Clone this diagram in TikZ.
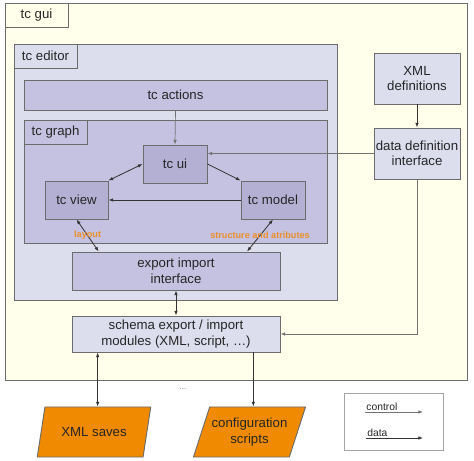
\documentclass[tikz,border=0pt]{standalone}
\usepackage{fontspec}
\setmainfont{Liberation Sans}
\usetikzlibrary{shapes.geometric, arrows.meta}
\usetikzlibrary{positioning}
\usetikzlibrary{calc}
\definecolor{guifill}{HTML}{FFFFEC}
\definecolor{edfill}{HTML}{DCDEEE}
\definecolor{midfill}{HTML}{C4C2E0}
\definecolor{darkfill}{HTML}{B4B0D4}
\definecolor{saveorange}{HTML}{F08A00}
\definecolor{lblorange}{HTML}{EC8E2A}
\definecolor{edgegray}{HTML}{6C6C6C}
\tikzset{
box/.style={
	rectangle,
	draw=edgegray,
	line width=0.8pt,
	text=black!85,
	text centered,
	align=center,
	inner sep=0pt,
	font=\fontsize{11.3}{13.2}\selectfont
},
tab/.style={
	box,
	minimum width=1.89cm,
	minimum height=0.72cm
},
store/.style={
	trapezium,
	trapezium stretches=true,
	trapezium left angle=61,
	trapezium right angle=119,
	draw=edgegray,
	line width=0.8pt,
	fill=saveorange,
	text=black!85,
	align=center,
	inner sep=0pt,
	minimum height=1.5cm,
	font=\fontsize{11.3}{13.2}\selectfont
},
edgelbl/.style={
	text=lblorange,
	inner sep=0pt,
	font=\fontsize{7.8}{9}\selectfont\bfseries
},
ctrlflow/.style={
	>={Latex[length=4pt,width=3pt]},
	draw=black!55,
	line width=0.6pt
},
dataflow/.style={
	>={Latex[length=4pt,width=3pt]},
	draw=black!80,
	line width=0.7pt
}
}

\begin{document}
\begin{tikzpicture}[x=0.03cm, y=-0.03cm]
\useasboundingbox (0,0) rectangle (474,461);
% ===== Frames (drawn first, inner boxes on top) =====
\node (gui)     [box, fill=guifill, minimum width=13.86cm, minimum height=11.31cm] at (236, 191.5) {};
\node (guitab)  [tab, fill=guifill]                                                 at (36.5, 15)   {tc gui};
\node (editor)  [box, fill=edfill, minimum width=9.69cm, minimum height=7.68cm]     at (175.5, 172) {};
\node (edtab)   [tab, fill=edfill]                                                  at (45.5, 56)   {tc editor};
\node (actions) [box, fill=midfill, minimum width=9.09cm, minimum height=0.9cm]     at (175.5, 95)  {tc actions};
\node (graph)   [box, fill=midfill, minimum width=9.09cm, minimum height=3.69cm]    at (175.5, 181.5) {};
\node (grtab)   [tab, fill=midfill]                                                 at (55.5, 132)  {tc graph};
% ===== tc graph content =====
\node (ui)      [box, fill=darkfill, minimum width=1.92cm, minimum height=1.14cm]   at (175, 164)   {tc ui};
\node (view)    [box, fill=darkfill, minimum width=1.89cm, minimum height=1.14cm]   at (76.5, 200)  {tc view};
\node (model)   [box, fill=darkfill, minimum width=1.92cm, minimum height=1.14cm]   at (273, 200)   {tc model};
% ===== Interfaces =====
\node (expimp)  [box, fill=midfill, minimum width=6.24cm, minimum height=1.14cm]    at (176, 271)   {export import\\interface};
\node (schema)  [box, fill=edfill, minimum width=6.24cm, minimum height=1.08cm]     at (176, 334)   {schema export / import\\modules (XML, script, \ldots)};
\node (xmldef)  [box, fill=edfill, minimum width=2.58cm, minimum height=1.53cm]     at (417, 78.5)  {XML\\definitions};
\node (datadef) [box, fill=edfill, minimum width=2.58cm, minimum height=1.53cm]     at (417, 153.5) {data definition\\interface};
% ===== Outside the gui =====
\node (saves)   [store, minimum width=3.42cm]                                       at (94, 432)    {XML saves};
\node (scripts) [store, minimum width=3.39cm]                                       at (249.5, 432) {configuration\\scripts};
\node (dots)    [text=black!50, font=\fontsize{7}{8}\selectfont]                   at (183, 389)   {...};

% ===== Arrows inside tc graph =====
\draw [ctrlflow, ->] (actions.south) -- (ui.north);
\draw [dataflow, <->] (ui.west) -- (view.north east);
\draw [dataflow, ->] (ui.east) -- (model.north west);
\draw [dataflow, ->] (model.west) -- (view.east);
% data definitions into the editor and the modules
\draw [dataflow, ->] (xmldef.south) -- (datadef.north);
\draw [ctrlflow, ->] (datadef.west) -- (datadef.west -| ui.east);
\draw [ctrlflow, ->] (datadef.south) |- (schema.east);
% graph <-> export import interface
\draw [dataflow, <->] (view.south) -- ($(expimp.north west)!0.13!(expimp.north east)$)
      node[edgelbl, pos=0.5] {layout};
\draw [dataflow, <->] (model.south) -- ($(expimp.north west)!0.84!(expimp.north east)$)
      node[edgelbl, pos=0.5] {structure and atributes};
\draw [dataflow, <->] (expimp.south) -- (schema.north);
% modules <-> files
\coordinate (savetop)   at ($(schema.south west)!0.125!(schema.south east)$);
\coordinate (scripttop) at ($(schema.south west)!0.87!(schema.south east)$);
\draw [dataflow, <->] (savetop) -- (savetop |- saves.north);
\draw [dataflow, ->] (scripttop) -- (scripttop |- scripts.north);

% ===== Legend =====
\node (legend)  [box, fill=white, draw=black!35, minimum width=2.97cm, minimum height=1.71cm] at (393.5, 421.5) {};
\node (ctrltxt) [anchor=south west, inner sep=1pt, text=black!85, font=\fontsize{8.8}{10}\selectfont] at (365, 412) {control};
\node (datatxt) [anchor=south west, inner sep=1pt, text=black!85, font=\fontsize{8.8}{10}\selectfont] at (366, 438) {data};
\coordinate (ctrlend) at (423, 412);
\coordinate (dataend) at (423, 438);
\draw [ctrlflow, ->] (ctrltxt.south west) -- (ctrlend);
\draw [dataflow, ->] (datatxt.south west) -- (dataend);

\end{tikzpicture}
\end{document}
